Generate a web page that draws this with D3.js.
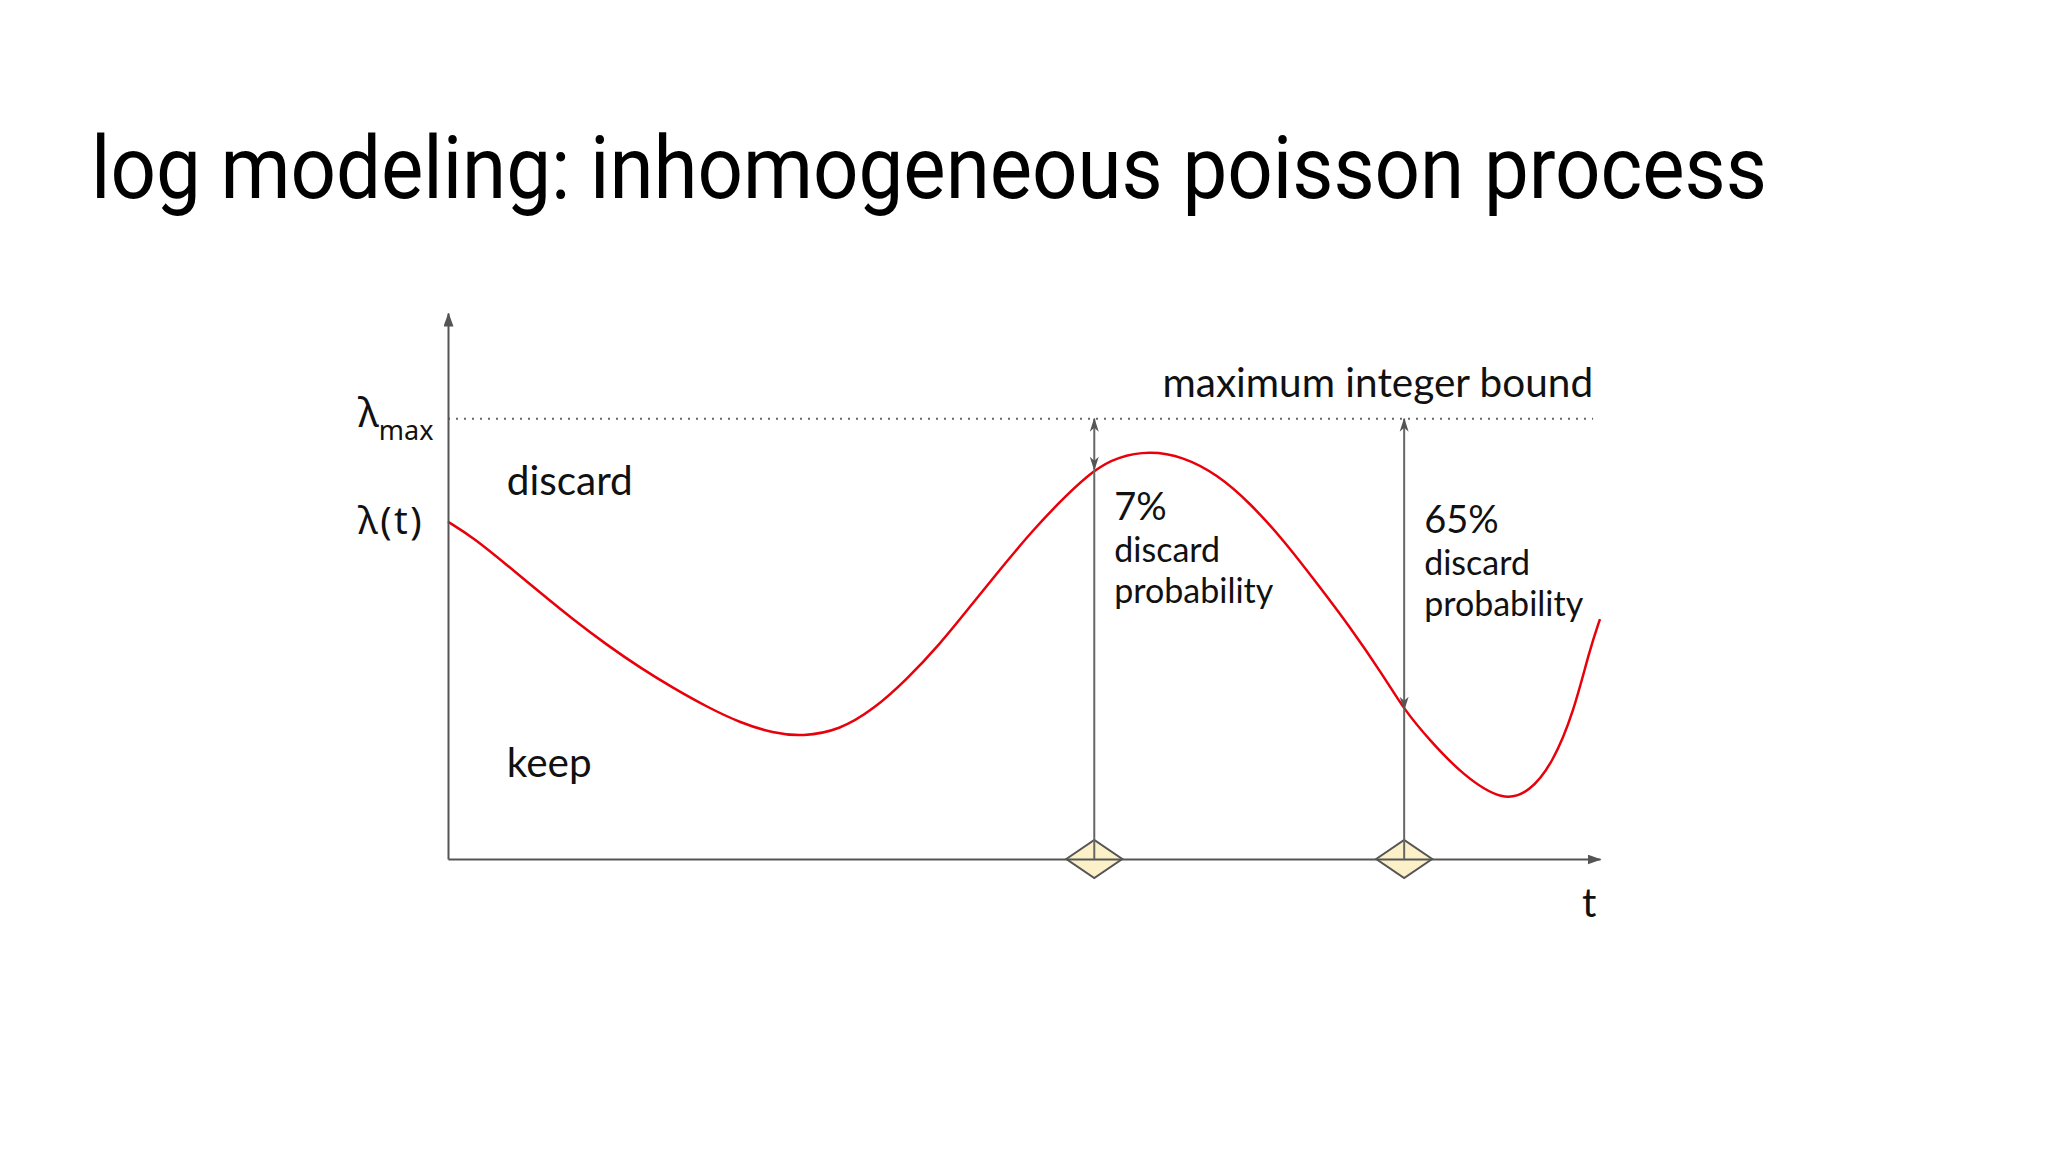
<!DOCTYPE html>
<html>
<head>
<meta charset="utf-8">
<script src="https://cdn.jsdelivr.net/npm/d3@7"></script>
<style>
	body { margin: 0; background: #fff; }
	svg { display: block; }
</style>
</head>
<body>
<svg class="chart"></svg>
<script>

var titleText = 'log modeling: inhomogeneous poisson process';

// lambda(t), t in 0..100, lambda in units where lambda max = 10
var curveT = [0, 2.2, 5.1, 8.0, 10.9, 13.8, 16.7, 19.5, 22.5, 25.4, 28.2, 30.8, 34.0, 36.9, 39.8, 42.7, 45.1, 47.9, 50.8, 53.7, 56.1, 58.1, 60.9, 63.8, 66.8, 69.6, 72.5, 75.4, 78.3, 81.2, 83.0, 85.2, 88.1, 91.6, 93.9, 95.9, 97.7, 99.1, 100];
var curveLambda = [7.66, 7.30, 6.68, 6.05, 5.43, 4.86, 4.34, 3.89, 3.45, 3.09, 2.86, 2.78, 2.93, 3.39, 4.07, 4.88, 5.66, 6.57, 7.48, 8.27, 8.84, 9.13, 9.27, 9.14, 8.73, 8.09, 7.25, 6.27, 5.27, 4.16, 3.39, 2.70, 1.90, 1.30, 1.52, 2.18, 3.32, 4.75, 5.45];

var lambdaMax = 10;
var axisTop = 12.4;

var sampleT = [56.1, 83.0];
var sampleLambda = [8.84, 3.39];
var sampleLabels = ['7%', '65%'];
var sampleNote = ['discard', 'probability'];

var regionLabels = ['discard', 'keep'];
var regionLambda = [8.27, 1.86];

var config = {
	width: 2048,
	height: 1152,
	left: 448,
	right: 1600,
	top: 313,
	bottom: 859,
	font: 'Lato, "Noto Sans", sans-serif',
	greekFont: '"Noto Sans", "Open Sans", sans-serif',
	axisColor: '#555',
	curveColor: '#e8000b'
};

var xScale = d3.scaleLinear()
				.domain([0, 100])
				.range([config.left, config.right]);

var yScale = d3.scaleLinear()
				.domain([0, axisTop])
				.range([config.bottom, config.top]);

var svg = d3.select('.chart')
			.attr('width', config.width)
			.attr('height', config.height)
			.attr('viewBox', '0 0 ' + config.width + ' ' + config.height);

svg.append('rect')
	.attr('width', config.width)
	.attr('height', config.height)
	.attr('fill', '#fff');

var defs = svg.append('defs');

defs.append('marker')
	.attr('id', 'axis-arrow')
	.attr('viewBox', '0 0 14 10')
	.attr('refX', 13)
	.attr('refY', 5)
	.attr('markerUnits', 'userSpaceOnUse')
	.attr('markerWidth', 14)
	.attr('markerHeight', 10)
	.attr('orient', 'auto')
	.append('path')
	.attr('d', 'M0,0L14,5L0,10Z')
	.attr('fill', config.axisColor);

defs.append('marker')
	.attr('id', 'thin-arrow')
	.attr('viewBox', '0 0 14 10')
	.attr('refX', 13)
	.attr('refY', 5)
	.attr('markerUnits', 'userSpaceOnUse')
	.attr('markerWidth', 14)
	.attr('markerHeight', 10)
	.attr('orient', 'auto-start-reverse')
	.append('path')
	.attr('d', 'M0,0.5L14,5L0,9.5L4,5Z')
	.attr('fill', config.axisColor);

//title
svg.append('text')
	.text(titleText)
	.attr('x', 91)
	.attr('y', 198)
	.attr('font-family', 'Roboto, sans-serif')
	.attr('font-size', 88)
	.attr('textLength', 1676)
	.attr('lengthAdjust', 'spacingAndGlyphs')
	.attr('fill', '#000');

var chart = svg.append('g');

//dotted bound
chart.append('line')
	.attr('x1', xScale(0))
	.attr('x2', xScale(99.4))
	.attr('y1', yScale(lambdaMax))
	.attr('y2', yScale(lambdaMax))
	.attr('stroke', '#666')
	.attr('stroke-width', 2)
	.attr('stroke-dasharray', '2,6');

chart.append('text')
	.text('maximum integer bound')
	.attr('x', xScale(99.4))
	.attr('y', 397)
	.attr('text-anchor', 'end')
	.attr('font-family', config.font)
	.attr('font-size', 40.5)
	.attr('fill', '#111');

//lambda(t)
var lineGen = d3.line()
				.x(d => xScale(d[0]))
				.y(d => yScale(d[1]))
				.curve(d3.curveBasis);

chart.append('path')
	.datum(curveT.map((t, i) => [t, curveLambda[i]]))
	.attr('d', lineGen)
	.attr('fill', 'none')
	.attr('stroke', config.curveColor)
	.attr('stroke-width', 2.5);

//sample diamonds
chart.selectAll('.diamond')
	.data(sampleT)
	.enter()
	.append('path')
	.attr('class', 'diamond')
	.attr('transform', d => 'translate(' + xScale(d) + ',' + yScale(0) + ')')
	.attr('d', 'M-28,0L0,-19L28,0L0,19Z')
	.attr('fill', '#fbf0c8')
	.attr('stroke', config.axisColor)
	.attr('stroke-width', 2);

//axes
chart.append('g')
	.attr('transform', 'translate(0,' + yScale(0) + ')')
	.call(d3.axisBottom(xScale).ticks(0).tickSizeOuter(0))
	.call(g => g.select('.domain')
		.attr('stroke', config.axisColor)
		.attr('stroke-width', 2)
		.attr('marker-end', 'url(#axis-arrow)'));

chart.append('g')
	.attr('transform', 'translate(' + xScale(0) + ',0)')
	.call(d3.axisLeft(yScale).ticks(0).tickSizeOuter(0))
	.call(g => g.select('.domain')
		.attr('stroke', config.axisColor)
		.attr('stroke-width', 2)
		.attr('marker-end', 'url(#axis-arrow)'));

//sample lines
var samples = chart.selectAll('.sample')
				.data(sampleT)
				.enter()
				.append('g')
				.attr('class', 'sample');

samples.append('line')
	.attr('x1', d => xScale(d))
	.attr('x2', d => xScale(d))
	.attr('y1', yScale(lambdaMax))
	.attr('y2', (d, i) => yScale(sampleLambda[i]))
	.attr('stroke', '#666')
	.attr('stroke-width', 2)
	.attr('marker-start', 'url(#thin-arrow)')
	.attr('marker-end', 'url(#thin-arrow)');

samples.append('line')
	.attr('x1', d => xScale(d))
	.attr('x2', d => xScale(d))
	.attr('y1', (d, i) => yScale(sampleLambda[i]))
	.attr('y2', yScale(0))
	.attr('stroke', '#666')
	.attr('stroke-width', 2);

var noteTop = [520, 533];
var noteStep = [42, 83];

samples.append('text')
	.text((d, i) => sampleLabels[i])
	.attr('x', d => xScale(d) + 20)
	.attr('y', (d, i) => noteTop[i])
	.attr('font-family', config.font)
	.attr('font-size', 38)
	.attr('fill', '#111');

sampleNote.forEach(function (s, k) {
	samples.append('text')
		.text(s)
		.attr('x', d => xScale(d) + 20)
		.attr('y', (d, i) => noteTop[i] + noteStep[k])
		.attr('font-family', config.font)
		.attr('font-size', 34)
		.attr('fill', '#111');
});

//region labels
chart.selectAll('.region')
	.data(regionLabels)
	.enter()
	.append('text')
	.attr('class', 'region')
	.text(d => d)
	.attr('x', xScale(5.1))
	.attr('y', (d, i) => yScale(regionLambda[i]))
	.attr('font-family', config.font)
	.attr('font-size', 40.5)
	.attr('fill', '#111');

//y labels
var lmax = chart.append('text')
			.attr('x', 358)
			.attr('y', yScale(lambdaMax) + 8)
			.attr('font-family', config.greekFont)
			.attr('font-size', 40)
			.attr('fill', '#111');

lmax.append('tspan').text('λ');
lmax.append('tspan')
	.text('max')
	.attr('font-size', 27)
	.attr('dy', 13);

chart.append('text')
	.text('λ(t)')
	.attr('x', 358)
	.attr('y', yScale(curveLambda[0]) + 12)
	.attr('font-family', config.greekFont)
	.attr('font-size', 38)
	.attr('letter-spacing', 2.5)
	.attr('fill', '#111');

chart.append('text')
	.text('t')
	.attr('x', 1582)
	.attr('y', 917)
	.attr('font-family', config.font)
	.attr('font-size', 40)
	.attr('fill', '#111');

</script>
</body>
</html>
